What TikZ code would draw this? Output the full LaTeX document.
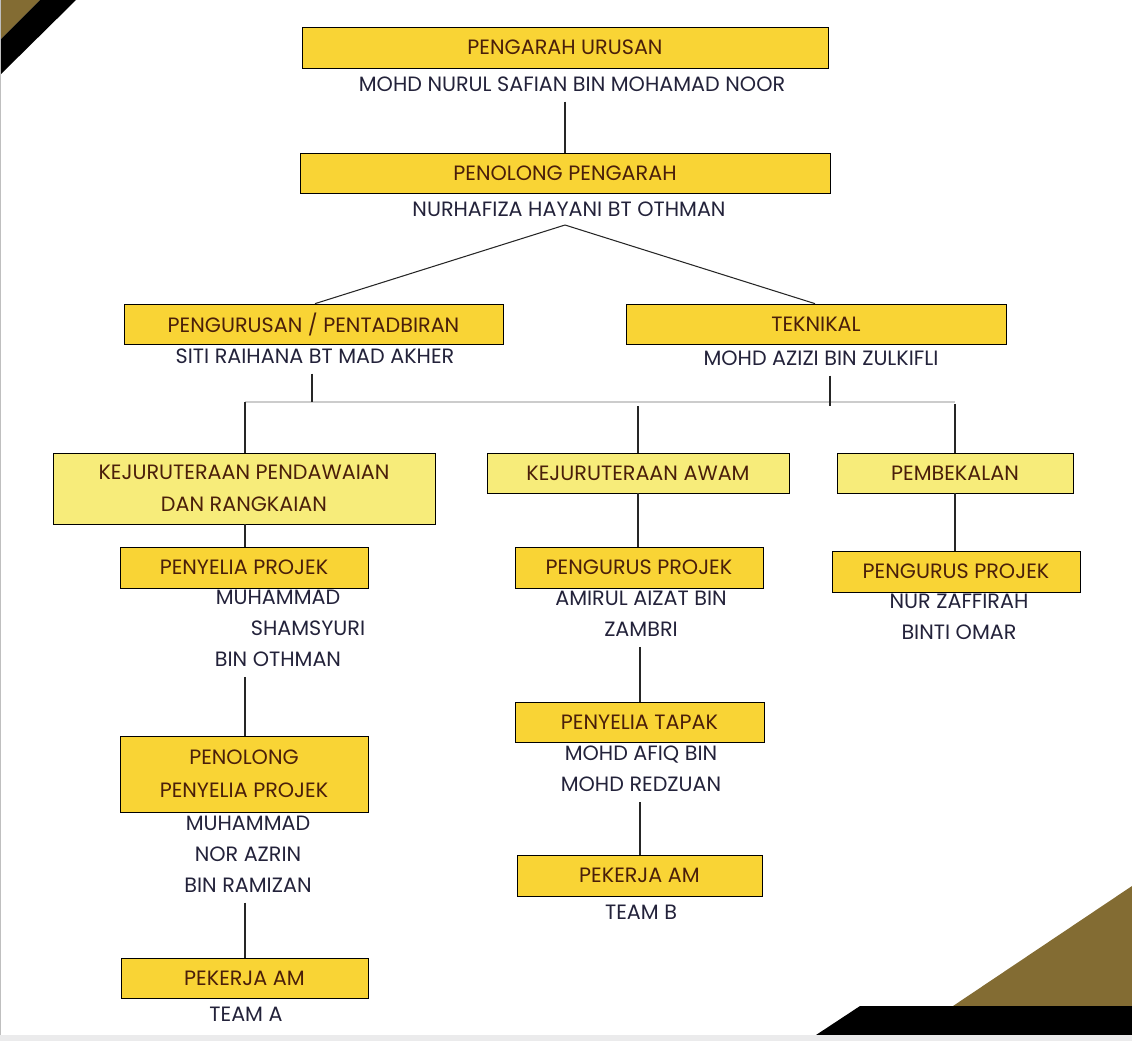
\documentclass[tikz,border=0pt]{standalone}
\usepackage{fontspec}
\setmainfont{Poppins}
\definecolor{boxyellow}{HTML}{F9D435}
\definecolor{boxlight}{HTML}{F7EC7A}
\definecolor{deco}{HTML}{836C33}
\definecolor{titletext}{HTML}{4A1F0A}
\definecolor{nametext}{HTML}{23223A}
\tikzset{
  post/.style={draw=black, fill=boxyellow, text=titletext, inner sep=0pt, align=center},
  unit/.style={post, fill=boxlight},
  who/.style={text=nametext, align=center, inner sep=0pt},
  link/.style={draw=black!85, line width=0.6pt},
}
\newcommand{\boxat}[6]{% name, style, x1, y1, x2, y2
  \node[#2, minimum width={(#5-#3)*0.02cm}, minimum height={(#6-#4)*0.02cm}]
    (#1) at ({(#3+#5)/2}, {(#4+#6)/2})}
\begin{document}
\begin{tikzpicture}[x=0.02cm, y=-0.02cm, font=\fontsize{11.8}{15.5}\selectfont]
  \useasboundingbox (0,0) rectangle (1132,1041);
  % decoration
  \fill[deco] (0,0) -- (40,0) -- (0,40) -- cycle;
  \fill[black] (40,0) -- (76,0) -- (0,75) -- (0,40) -- cycle;
  \fill[black!25] (0,0) rectangle (1.5,1041);
  \fill[deco] (1132,886) -- (1132,1006) -- (953,1006) -- cycle;
  \fill[black] (860,1006) -- (1132,1006) -- (1132,1035) -- (816,1035) -- cycle;
  \fill[blue!8!black!8] (0,1035) rectangle (1132,1041);

  % posts
  \boxat{pu}{post}{302}{27}{828}{68} {PENGARAH URUSAN};
  \node[who] (pun) at (572,84) {MOHD NURUL SAFIAN BIN MOHAMAD NOOR};
  \boxat{pp}{post}{300}{153}{830}{193} {PENOLONG PENGARAH};
  \node[who] (ppn) at (569,209) {NURHAFIZA HAYANI BT OTHMAN};
  \boxat{pt}{post}{124}{304}{503}{344} {PENGURUSAN / PENTADBIRAN};
  \node[who] (ptn) at (315,356) {SITI RAIHANA BT MAD AKHER};
  \boxat{tk}{post}{626}{304}{1006}{344} {TEKNIKAL};
  \node[who] (tkn) at (821,358) {MOHD AZIZI BIN ZULKIFLI};

  % units
  \boxat{kpr}{unit}{53}{453}{435}{524} {KEJURUTERAAN PENDAWAIAN\\[0.1cm]DAN RANGKAIAN};
  \boxat{ka}{unit}{487}{453}{789}{493} {KEJURUTERAAN AWAM};
  \boxat{pb}{unit}{837}{453}{1073}{493} {PEMBEKALAN};

  % left branch
  \boxat{sp1}{post}{120}{547}{368}{588} {PENYELIA PROJEK};
  \node[who, anchor=north] (sp1n) at (278,590) {MUHAMMAD\\[0.07cm]\hspace*{1.2cm}SHAMSYURI\\[0.07cm]BIN OTHMAN};
  \boxat{psp}{post}{120}{736}{368}{812} {PENOLONG\\[0.12cm]PENYELIA PROJEK};
  \node[who, anchor=north] (pspn) at (248,816) {MUHAMMAD\\[0.07cm]NOR AZRIN\\[0.07cm]BIN RAMIZAN};
  \boxat{pa}{post}{121}{958}{368}{998} {PEKERJA AM};
  \node[who] (pan) at (246,1014) {TEAM A};

  % middle branch
  \boxat{gp1}{post}{515}{547}{763}{588} {PENGURUS PROJEK};
  \node[who, anchor=north] (gp1n) at (641,591) {AMIRUL AIZAT BIN\\[0.07cm]ZAMBRI};
  \boxat{st}{post}{515}{702}{764}{742} {PENYELIA TAPAK};
  \node[who, anchor=north] (stn) at (641,746) {MOHD AFIQ BIN\\[0.07cm]MOHD REDZUAN};
  \boxat{pb2}{post}{517}{855}{762}{896} {PEKERJA AM};
  \node[who] (pbn) at (641,912) {TEAM B};

  % right branch
  \boxat{gp2}{post}{832}{551}{1080}{592} {PENGURUS PROJEK};
  \node[who, anchor=north] (gp2n) at (959,594) {NUR ZAFFIRAH\\[0.07cm]BINTI OMAR};

  % junctions
  \coordinate (ppb) at (565,225);
  \coordinate (busl) at (245,402);
  \coordinate (busm) at (638,402);
  \coordinate (busr) at (955,402);
  \coordinate (c565) at (565,0);
  \coordinate (c315) at (315,0);
  \coordinate (c815) at (815,0);
  \coordinate (c312) at (312,0);
  \coordinate (c830) at (830,0);
  \coordinate (c640) at (640,0);
  \coordinate (ptend) at (312,402);
  \coordinate (tkend) at (830,406);
  \draw[black!20, line width=0.8pt] (busl) -- (busr);

  \draw[link] ([yshift=-0.2cm]pun.south -| c565) -- (pp.north -| c565);
  \draw[link] (ppb) -- (pt.north -| c315);
  \draw[link] (ppb) -- (tk.north -| c815);
  \draw[link] ([yshift=-0.2cm]ptn.south -| c312) -- (ptend);
  \draw[link] ([yshift=-0.2cm]tkn.south -| c830) -- (tkend);
  \draw[link] (busl) -- (kpr.north -| busl);
  \draw[link] ([yshift=-0.08cm]busm) -- (ka.north -| busm);
  \draw[link] ([yshift=-0.04cm]busr) -- (pb.north -| busr);
  \draw[link] (kpr.south -| busl) -- (sp1.north -| busl);
  \draw[link] (ka.south -| busm) -- (gp1.north -| busm);
  \draw[link] (pb.south -| busr) -- (gp2.north -| busr);
  \draw[link] ([yshift=-0.2cm]sp1n.south -| busl) -- (psp.north -| busl);
  \draw[link] ([yshift=-0.2cm]pspn.south -| busl) -- (pa.north -| busl);
  \draw[link] ([yshift=-0.2cm]gp1n.south -| c640) -- (st.north -| c640);
  \draw[link] ([yshift=-0.2cm]stn.south -| c640) -- (pb2.north -| c640);
\end{tikzpicture}
\end{document}
